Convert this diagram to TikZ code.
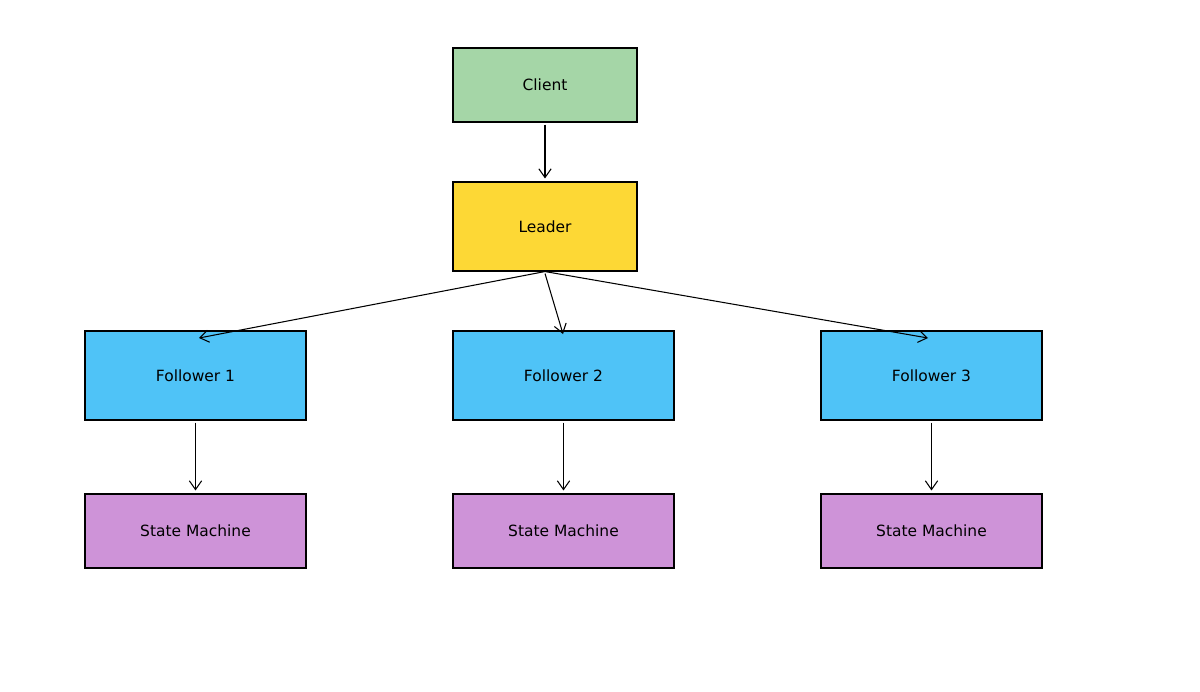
\documentclass[tikz,border=0pt]{standalone}
\usepackage{fontspec}
\setmainfont{DejaVu Sans}
\usetikzlibrary{arrows.meta}
\begin{document}
\begin{tikzpicture}[x=0.02cm,y=-0.02cm,
  box/.style={draw=black,line width=0.6pt,inner sep=0pt,font=\fontsize{8.8pt}{10pt}\selectfont},
  arr/.style={-{Straight Barb[length=5pt,width=7pt]},line width=0.6pt}]
\useasboundingbox (0,0) rectangle (1200,691);
\definecolor{cg}{HTML}{A5D6A7}
\definecolor{cy}{HTML}{FDD835}
\definecolor{cb}{HTML}{4FC3F7}
\definecolor{cp}{HTML}{CE93D8}
\node[box,fill=cg,minimum width=184*0.02cm,minimum height=74*0.02cm] (client) at (545,85) {Client};
\node[box,fill=cy,minimum width=184*0.02cm,minimum height=89*0.02cm] (leader) at (545,226.5) {Leader};
\foreach \i/\x in {1/195.5,2/563.5,3/931.5}{
  \node[box,fill=cb,minimum width=221*0.02cm,minimum height=89*0.02cm] (f\i) at (\x,375.5) {Follower \i};
  \node[box,fill=cp,minimum width=221*0.02cm,minimum height=74*0.02cm] (s\i) at (\x,531) {State Machine};
  \draw[arr] ([yshift=-2*0.02cm]f\i.south) -- ([yshift=3*0.02cm]s\i.north);
}
\coordinate (t1) at (199,338);
\coordinate (t2) at (563,334);
\coordinate (t3) at (928,338);
\draw[arr] ([yshift=-2*0.02cm]client.south) -- ([yshift=3*0.02cm]leader.north);
\draw[arr] (leader.south) -- (t1);
\draw[arr] ([yshift=-2*0.02cm]leader.south) -- (t2);
\draw[arr] (leader.south) -- (t3);
\end{tikzpicture}
\end{document}
